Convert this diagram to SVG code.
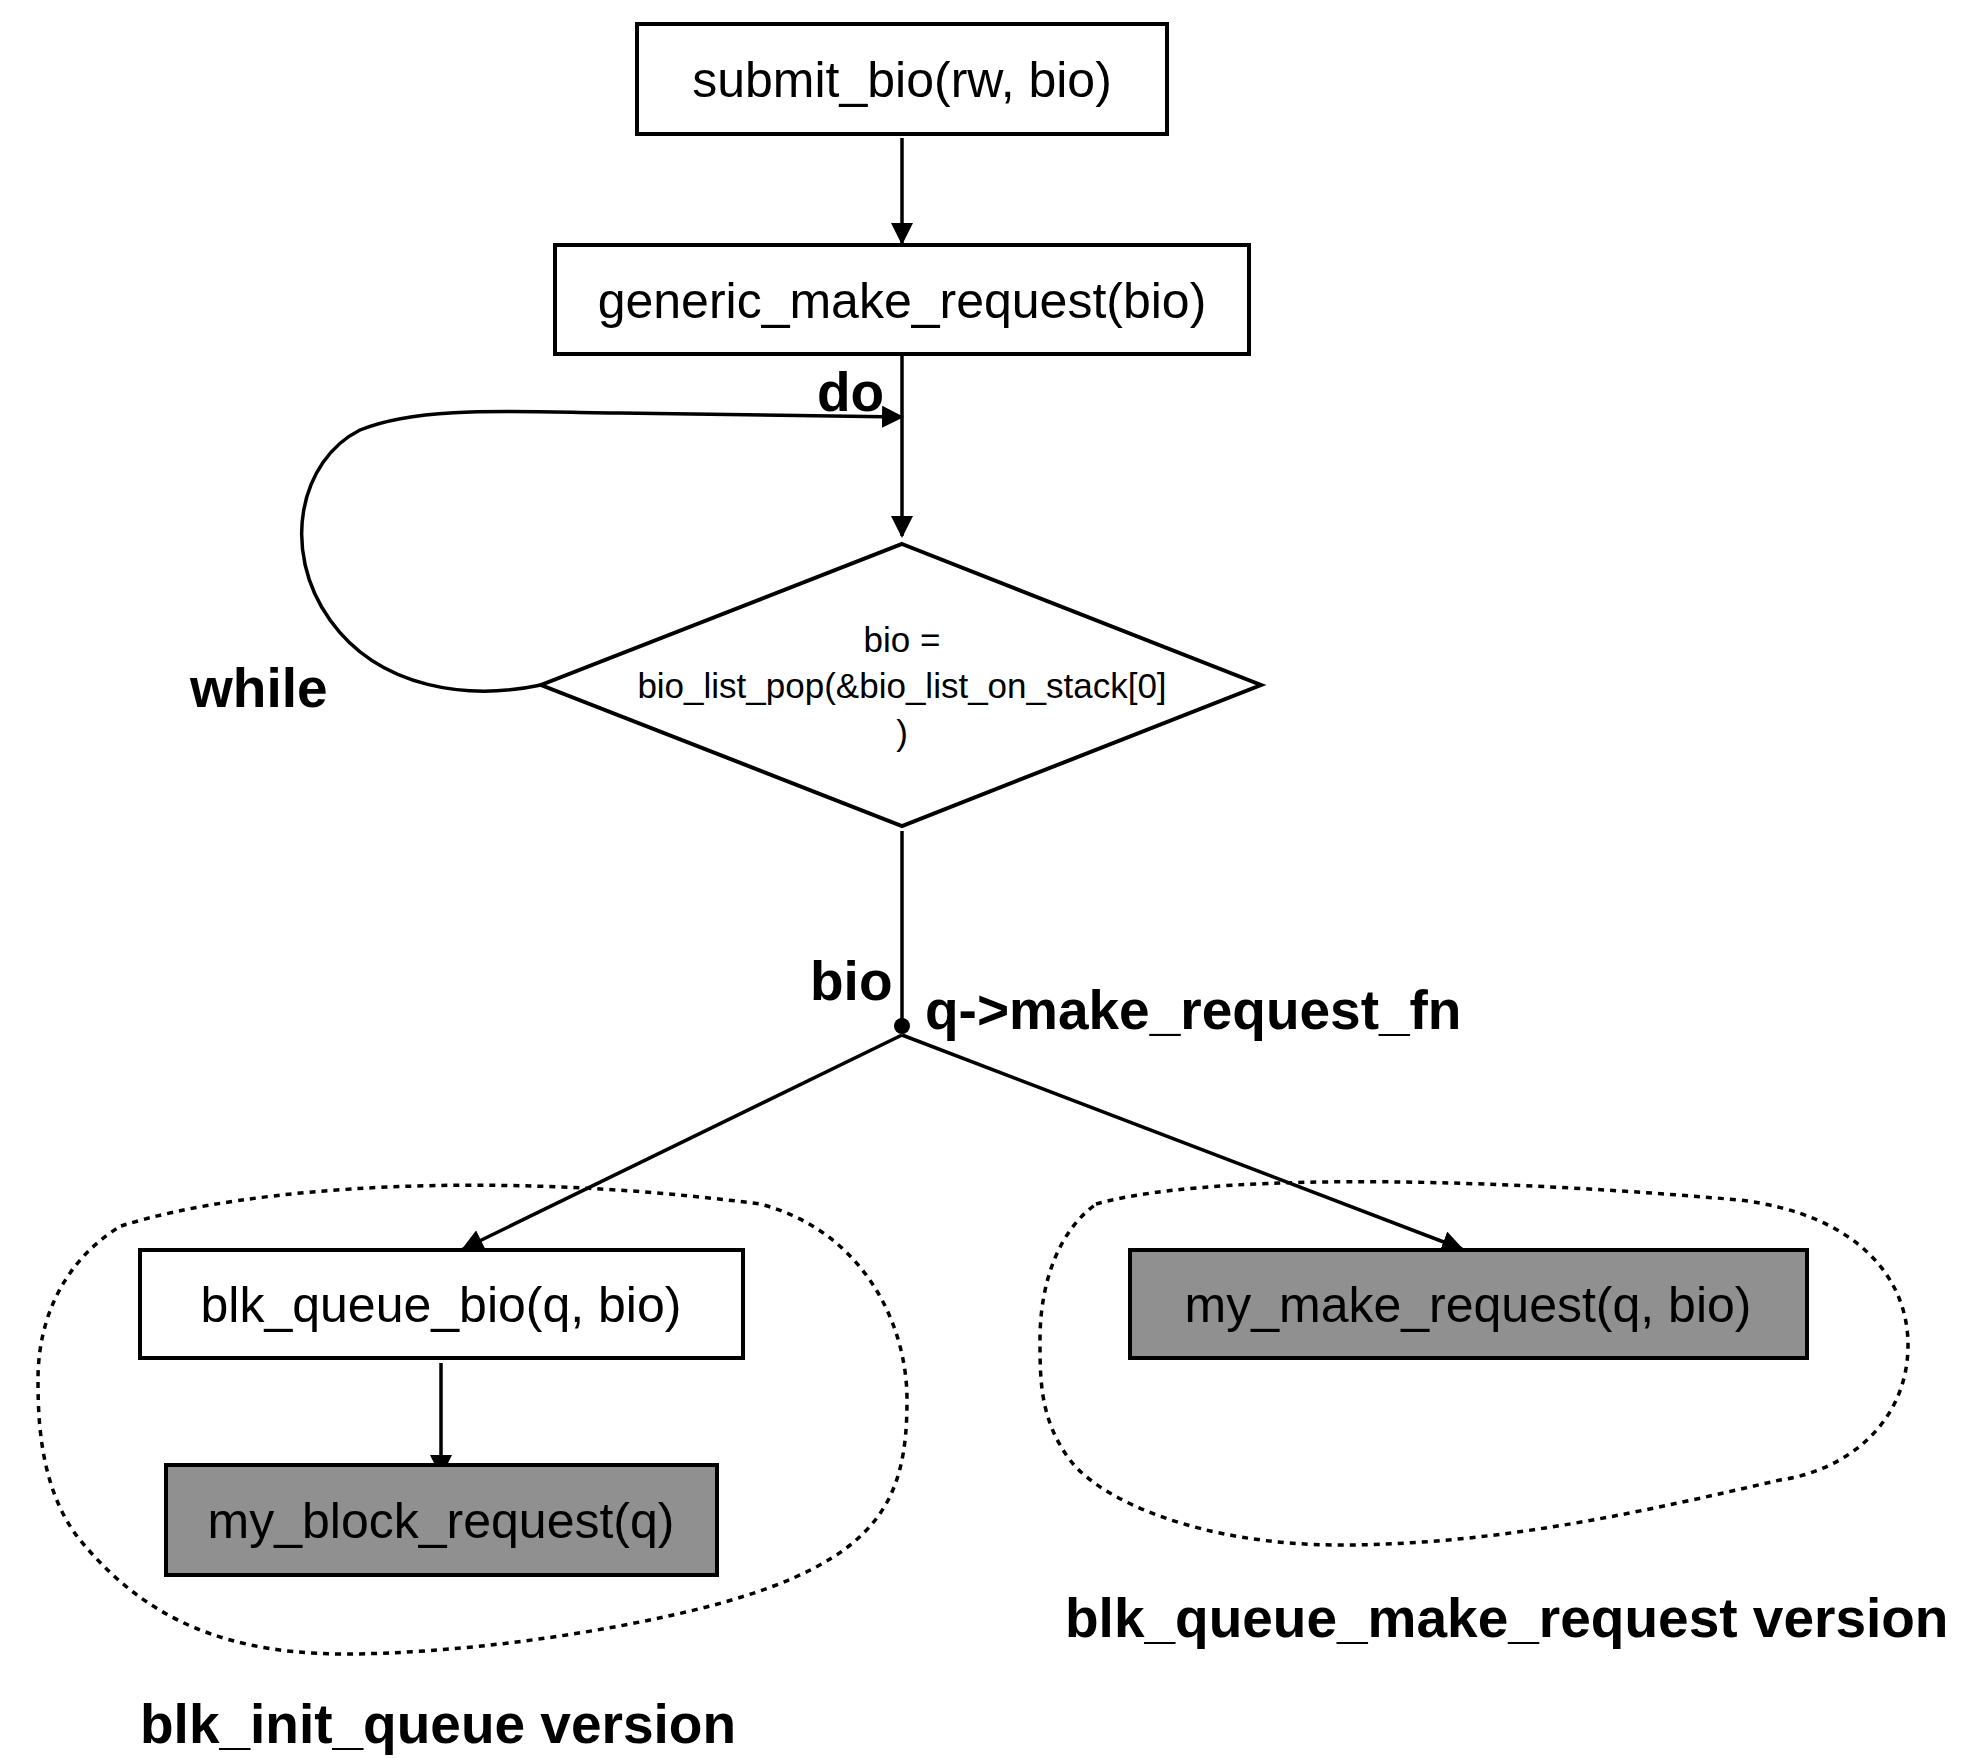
<svg xmlns="http://www.w3.org/2000/svg" width="1988" height="1758" viewBox="0 0 1988 1758">
<style>
.box{stroke:#000;stroke-width:4;fill:#fff}
.gray{fill:#909090}
.t{font-family:"Liberation Sans",Arial,sans-serif;font-size:50px;text-anchor:middle;fill:#000}
.s{font-family:"Liberation Sans",Arial,sans-serif;font-size:35px;text-anchor:middle;fill:#000}
.b{font-family:"Liberation Sans",Arial,sans-serif;font-size:55px;font-weight:bold;fill:#000}
.e{stroke:#000;stroke-width:3.5;fill:none}
.d{stroke:#000;stroke-width:3.5;fill:none;stroke-dasharray:6 6}
</style>
<defs>
<marker id="ah" markerWidth="22" markerHeight="22" refX="20" refY="11" orient="auto" markerUnits="userSpaceOnUse"><path d="M0,0 L22,11 L0,22 Z" fill="#000"/></marker>
</defs>
<g id="connectors">
<line class="e" x1="902" y1="138" x2="902" y2="243" marker-end="url(#ah)"/>
<line class="e" x1="902" y1="356" x2="902" y2="536" marker-end="url(#ah)"/>
<path class="e" d="M541,685 C470,700 380,690 330,620 C280,550 300,460 360,430 C420,405 520,412 620,413 L902,417" marker-end="url(#ah)"/>
<line class="e" x1="902" y1="831" x2="902" y2="1026"/>
<circle cx="902" cy="1026" r="8" fill="#000"/>
<line class="e" x1="902" y1="1035" x2="463" y2="1249" marker-end="url(#ah)"/>
<line class="e" x1="902" y1="1035" x2="1462" y2="1249" marker-end="url(#ah)"/>
<line class="e" x1="441" y1="1363" x2="441" y2="1475" marker-end="url(#ah)"/>
</g>
<g id="submit"><rect class="box" x="637" y="24" width="530" height="110"/><text class="t" x="902" y="97">submit_bio(rw, bio)</text></g>
<g id="generic"><rect class="box" x="555" y="245" width="694" height="109"/><text class="t" x="902" y="318">generic_make_request(bio)</text></g>
<g id="decision"><polygon class="box" points="902,544 1261,685 902,826 541,685"/>
<text class="s" x="902" y="652">bio =</text>
<text class="s" x="902" y="698">bio_list_pop(&amp;bio_list_on_stack[0]</text>
<text class="s" x="902" y="745">)</text></g>
<g id="blkq"><rect class="box" x="140" y="1250" width="603" height="108"/><text class="t" x="441" y="1322">blk_queue_bio(q, bio)</text></g>
<g id="myblock"><rect class="box gray" x="166" y="1465" width="551" height="110"/><text class="t" x="441" y="1538">my_block_request(q)</text></g>
<g id="mymake"><rect class="box gray" x="1130" y="1250" width="677" height="108"/><text class="t" x="1468" y="1322">my_make_request(q, bio)</text></g>
<g id="groups">
<path class="d" d="M121,1226 C250,1185 500,1170 760,1204 C860,1230 907,1320 907,1400 C907,1500 880,1560 714,1605 C600,1635 450,1654 344,1654 C200,1654 130,1600 80,1540 C40,1490 38,1420 38,1380 C38,1300 80,1250 121,1226 Z"/>
<path class="d" d="M1096,1204 C1200,1175 1450,1175 1740,1200 C1860,1215 1908,1280 1908,1345 C1908,1420 1850,1470 1780,1480 C1650,1510 1500,1545 1340,1545 C1200,1545 1100,1500 1070,1460 C1040,1420 1040,1380 1040,1340 C1040,1280 1060,1230 1096,1204 Z"/>
</g>
<g id="labels">
<text class="b" x="817" y="411">do</text>
<text class="b" x="190" y="707">while</text>
<text class="b" x="810" y="1000">bio</text>
<text class="b" x="925" y="1029">q-&gt;make_request_fn</text>
<text class="b" x="140" y="1743">blk_init_queue version</text>
<text class="b" x="1065" y="1637">blk_queue_make_request version</text>
</g>
</svg>
